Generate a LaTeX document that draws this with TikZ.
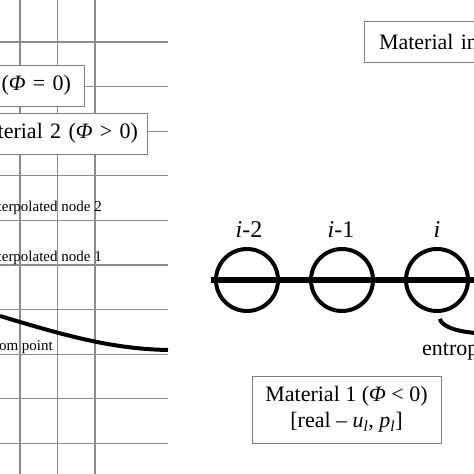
\documentclass[tikz,border=0pt]{standalone}
\usepackage{fontspec}
\setmainfont{Liberation Serif}
\newcommand\bigtxt{\fontsize{22}{26}\selectfont}
\newcommand\smalltxt{\fontsize{15}{18}\selectfont}
\newcommand\phiit{{\itshape Φ}}

\tikzset{
    gridline/.style={gray!90, line width=1.2pt},
    mbox/.style={draw=gray, fill=white, line width=1pt, font=\bigtxt, outer sep=0pt, minimum height=41pt},
    ring/.style={draw, circle, line width=4pt, minimum size=62pt, inner sep=0pt},
    lbl/.style={font=\fontsize{24}{28}\selectfont, anchor=base, inner sep=0pt},
    thickline/.style={line width=4pt},
}

\begin{document}
\begin{tikzpicture}[x=1pt, y=-1pt]
    \useasboundingbox (0,0) rectangle (474,474);
    \clip (0,0) rectangle (474,474);

    % background grid on the left
    \foreach \gx in {20,57.5,95}
        \draw[gridline] (\gx,0) -- (\gx,474);
    \foreach \gy in {42,86.6,131.2,175.8,220.4,265,309.6,354.2,398.8,443.4}
        \draw[gridline] (0,\gy) -- (168,\gy);

    % material boxes on the grid
    \node[mbox, anchor=east, text width=120pt, align=right, inner xsep=13pt] (mzero) at (84,85.5) {(\phiit{} = 0)};
    \node[mbox, anchor=east, text width=190pt, align=right, inner xsep=9pt] (mtwo) at (147,133.5) {terial 2 (\phiit{} > 0)};

    \node[font=\smalltxt, anchor=east, inner sep=0pt] (ipn2) at (102,208) {terpolated node 2};
    \node[font=\smalltxt, anchor=east, inner sep=0pt] (ipn1) at (102,258) {terpolated node 1};
    \node[font=\smalltxt, anchor=east, inner sep=0pt] (rpt) at (53,347) {om point};

    \coordinate (cvl) at (0,316);
    \coordinate (cvr) at (168,350);
    \draw[thickline] (cvl) .. controls (60,334) and (110,349) .. (cvr);

    % interface box top right
    \node[mbox, anchor=west, text width=150pt, align=left, inner xsep=15pt] (mint) at (364,41.5) {Material in};

    % nodes along the line
    \coordinate (axl) at (211,280);
    \coordinate (axr) at (476,280);
    \draw[line width=5.5pt] (axl) -- (axr);

    \node[ring] (cim2) at (247,280) {};
    \node[ring] (cim1) at (342,280) {};
    \node[ring] (ci) at (437,280) {};

    \node[lbl] (lim2) at (249,237) {\itshape i\upshape -2};
    \node[lbl] (lim1) at (341,237) {\itshape i\upshape -1};
    \node[lbl] (li) at (437,237) {\itshape i};

    \coordinate (entend) at (476,333);
    \draw[thickline] ([yshift=-6pt]ci.-85) .. controls (441,324) and (450,331) .. (entend);
    \node[font=\bigtxt, anchor=base west, inner sep=0pt] (ent) at (422,355) {entrop};

    \node[mbox, minimum width=189pt, minimum height=67pt, align=center] (mone) at (346.5,409.5)
        {Material 1 (\phiit{} < 0)\\ {}[real – {\itshape u}\textsubscript{\itshape l}, {\itshape p}\textsubscript{\itshape l}]};

\end{tikzpicture}
\end{document}
